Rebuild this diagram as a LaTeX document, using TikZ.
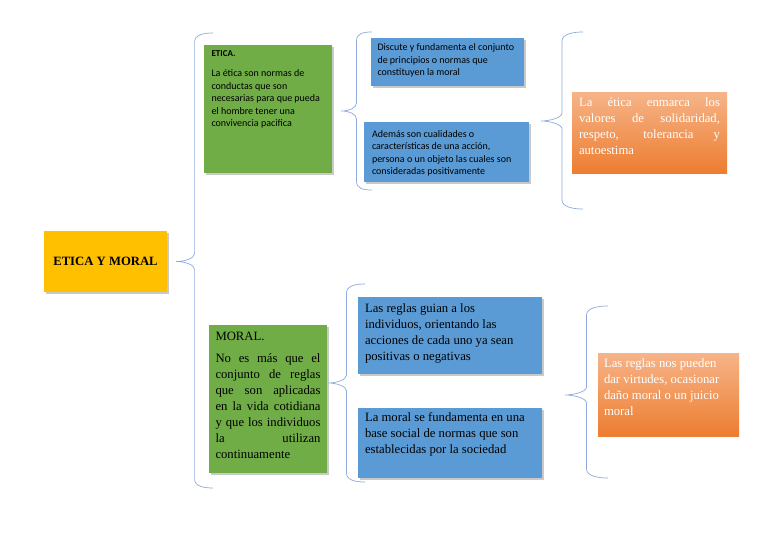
\documentclass[tikz,border=0pt]{standalone}
\usepackage{fontspec}
\setmainfont{Liberation Serif}
\newfontfamily\calibri{Carlito}
\usepackage{tikz}
\usetikzlibrary{calc,shadows}
\definecolor{amarillo}{RGB}{255,192,0}
\definecolor{verde}{RGB}{112,173,71}
\definecolor{azul}{RGB}{91,155,213}
\definecolor{naranjaclaro}{RGB}{246,180,136}
\definecolor{naranja}{RGB}{237,125,49}
\definecolor{llaveazul}{RGB}{143,170,220}

% justified line inside a parbox
\newcommand{\linea}[1]{\makebox[\linewidth][s]{#1}\\}
% curly brace: tip, top end, bottom end
\newcommand{\llave}[3]{%
  \coordinate (ll) at ($(#1)!.5!(#1 -| #2)$);
  \draw[llave] (#2) .. controls +(-10,0) and +(0,-7) .. ($(#2 -| ll)+(0,9)$)
    -- ($(#1 -| ll)+(0,-8)$) .. controls +(0,5) and +(8,0) .. (#1)
    .. controls +(8,0) and +(0,-5) .. ($(#1 -| ll)+(0,8)$)
    -- ($(#3 -| ll)+(0,-9)$) .. controls +(0,7) and +(-10,0) .. (#3);}

\tikzset{
  caja/.style={anchor=north west, inner sep=0pt, outer sep=0pt},
  sombra/.style={drop shadow={shadow xshift=2pt, shadow yshift=-2pt,
                 opacity=.35, fill=black!60}},
  cajanaranja/.style={caja, top color=naranjaclaro, bottom color=naranja, text=white},
  llave/.style={draw=llaveazul, line width=0.7pt},
  sans/.style={font=\calibri\fontsize{10}{12.5}\selectfont},
  serif/.style={font=\fontsize{12.7}{16}\selectfont},
}

\begin{document}
\begin{tikzpicture}[x=1pt, y=-1pt]
  \fill[white] (0,0) rectangle (768,543);

  % Titulo
  \node[fill=amarillo, sombra, minimum width=123pt, minimum height=61pt,
        font=\bfseries\fontsize{12.7}{15}\selectfont] (titulo) at (105.5,261.5)
    {ETICA Y MORAL};

  % Etica
  \node[caja, fill=verde, sombra, sans, inner xsep=7.5pt, inner ysep=6pt] (etica) at (204,45)
    {\parbox[c][116pt][t]{113pt}{\raggedright{\bfseries\fontsize{9}{12}\selectfont ETICA.}\\[7.5pt]
     La ética son normas de\\ conductas que son\\ necesarias para que pueda\\
     el hombre tener una\\ convivencia pacifica}};
  \node[caja, fill=azul, sombra, sans, inner xsep=6.5pt, inner ysep=6pt] (discute) at (371,38)
    {\parbox[c][36pt][t]{140pt}{\raggedright Discute y fundamenta el conjunto\\
     de principios o normas que\\ constituyen la moral}};
  \node[caja, fill=azul, sombra, sans, inner xsep=8pt, inner ysep=8.5pt] (cualidades) at (364,122)
    {\parbox[c][43pt][t]{149pt}{\raggedright Además son cualidades o\\
     características de una acción,\\ persona o un objeto las cuales son\\
     consideradas positivamente}};
  \node[cajanaranja, serif, inner xsep=7pt, inner ysep=5.5pt] (valores) at (572,92)
    {\parbox[c][70pt][t]{141pt}{\linea{La ética enmarca los}\linea{valores de solidaridad,}%
     \linea{respeto, tolerancia y}autoestima}};

  % Moral
  \node[caja, fill=verde, sombra, serif, inner xsep=6.5pt, inner ysep=7pt] (moral) at (209,325)
    {\parbox[c][134pt][t]{105pt}{MORAL.\\[6pt]
     \linea{No es más que el}\linea{conjunto de reglas}\linea{que son aplicadas}%
     \linea{en la vida cotidiana}\linea{y que los individuos}\linea{la utilizan}continuamente}};
  \node[caja, fill=azul, sombra, serif, inner xsep=7pt, inner ysep=6.3pt] (reglas) at (358,297)
    {\parbox[c][64.4pt][t]{170pt}{\raggedright Las reglas guian a los\\
     individuos, orientando las\\ acciones de cada uno ya sean\\ positivas o negativas}};
  \node[caja, fill=azul, sombra, serif, inner xsep=7pt, inner ysep=4.5pt] (social) at (358,408)
    {\parbox[c][61pt][t]{170pt}{\raggedright La moral se fundamenta en una\\
     base social de normas que son\\ establecidas por la sociedad}};
  \node[cajanaranja, serif, inner xsep=6pt, inner ysep=6pt] (virtudes) at (598,353)
    {\parbox[c][71pt][t]{129pt}{\raggedright Las reglas nos pueden\\
     dar virtudes, ocasionar\\ daño moral o un juicio\\ moral}};

  % Llaves
  \coordinate (p0) at ([xshift=9pt]titulo.east);
  \coordinate (a0) at (213,33);  \coordinate (b0) at (213,488);
  \coordinate (p1) at (341,111); \coordinate (a1) at (372,32);  \coordinate (b1) at (372,190);
  \coordinate (p2) at (541,121); \coordinate (a2) at (583,32);  \coordinate (b2) at (583,209);
  \coordinate (p3) at (328,383); \coordinate (a3) at (365,284); \coordinate (b3) at (365,482);
  \coordinate (p4) at (565,395); \coordinate (a4) at (608,306); \coordinate (b4) at (608,478);
  \foreach \p/\a/\b in {p0/a0/b0, p1/a1/b1, p2/a2/b2, p3/a3/b3, p4/a4/b4}
    \llave{\p}{\a}{\b};
\end{tikzpicture}
\end{document}
